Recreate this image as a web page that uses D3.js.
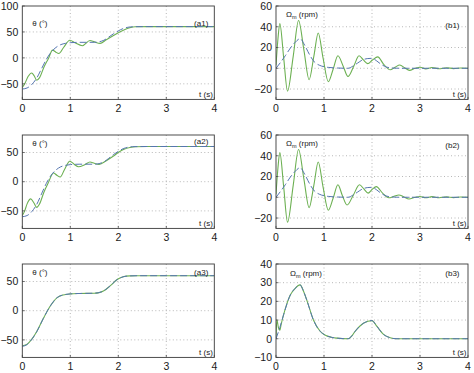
<!DOCTYPE html>
<html lang="en">
<head>
<meta charset="UTF-8">
<title>Position and speed responses</title>
<script src="https://d3js.org/d3.v7.min.js"></script>
<style>
  body { margin: 0; background: #fff; }
  svg { display: block; font-family: "Liberation Sans", Arial, Helvetica, sans-serif; }
</style>
</head>
<body>
<div id="chart"></div>
<script>
// ---- data: [t (s), value] ----
const timeTicks = [0, 1, 2, 3, 4];

// position reference (dashed) and response (solid), degrees
const thetaRefA = [[0,-60],[0.1,-58],[0.2,-51],[0.3,-39],[0.4,-21],[0.5,-3],[0.6,11],[0.7,20],
  [0.8,25.5],[0.9,28],[1.0,29.3],[1.2,30],[1.5,30],[1.6,31],[1.7,34],[1.8,40],[1.9,46.5],
  [2.0,52],[2.1,56.5],[2.2,59],[2.3,60],[2.6,60.3],[4,60.3]];
const thetaA1 = [[0,-57],[0.05,-50],[0.12,-36],[0.195,-29],[0.25,-35],[0.3,-43],[0.36,-38],
  [0.45,-18],[0.545,-1],[0.63,15],[0.7,11],[0.76,8.5],[0.86,20],[0.99,34],[1.1,29],[1.25,23.5],
  [1.41,33.5],[1.5,31],[1.62,28],[1.75,35],[1.9,43],[2.04,50.4],[2.15,55],[2.24,58],[2.35,60],
  [2.6,60.3],[4,60.3]];
const thetaA2 = [[0,-58],[0.05,-50],[0.1,-38],[0.175,-29.5],[0.24,-36],[0.3,-44],[0.36,-38],
  [0.45,-18],[0.54,-2],[0.65,15],[0.72,11],[0.79,8],[0.88,21],[0.99,35],[1.08,30],[1.17,25.5],
  [1.3,29],[1.41,33.7],[1.5,31.5],[1.6,29.6],[1.75,36],[1.9,44],[2.0,50],[2.12,55.5],
  [2.24,58.5],[2.35,60],[2.6,60.3],[4,60.3]];
const thetaRefA3 = [[0,-61],[0.08,-59],[0.16,-53],[0.3,-36],[0.44,-13],[0.58,7.6],[0.72,22],
  [0.85,27],[1.0,28.8],[1.2,29.5],[1.5,30],[1.6,31],[1.69,33.7],[1.83,42.5],[1.97,53],
  [2.1,58],[2.24,59.6],[2.4,60],[4,60]];
const thetaA3 = [[0,-60],[0.08,-58.5],[0.16,-52.5],[0.3,-36],[0.44,-13],[0.58,7.6],[0.72,22],
  [0.85,27],[1.0,28.8],[1.2,29.5],[1.5,30],[1.6,31],[1.69,33.7],[1.83,42.5],[1.97,53],
  [2.1,58],[2.24,59.6],[2.4,60],[4,60]];

// speed reference (dashed) and response (solid), rpm
const speedRefB = [[0,0],[0.1,6],[0.2,12.5],[0.3,19.5],[0.4,25],[0.5,28.5],[0.6,22],[0.7,13],
  [0.8,6],[0.9,3],[1.0,1.5],[1.1,0.8],[1.25,0.3],[1.5,0],[1.6,2],[1.7,5],[1.8,8],[1.9,9.3],
  [2.0,9.6],[2.1,7],[2.2,3.5],[2.3,1.2],[2.4,0.3],[2.6,0],[4,0]];
const speedB1 = [[0,3],[0.04,28],[0.08,43],[0.16,10],[0.24,-22],[0.36,12],[0.47,46],[0.58,18],
  [0.69,-11],[0.79,12],[0.88,34],[0.98,10],[1.09,-13],[1.19,-1],[1.29,12],[1.4,2],[1.5,-8],
  [1.62,2],[1.73,12],[1.82,8],[1.91,4.5],[2.01,8],[2.12,11],[2.24,4],[2.38,-1.5],[2.48,1],
  [2.58,3.2],[2.68,0.5],[2.78,-2],[2.9,0],[3.0,1],[3.12,-0.6],[3.25,0.8],[3.4,-0.5],
  [3.55,0.5],[3.7,-0.3],[3.85,0.3],[4,0]];
const speedB2 = [[0,3],[0.04,28],[0.08,43],[0.16,10],[0.24,-24],[0.36,12],[0.47,46],[0.58,18],
  [0.69,-10],[0.79,12],[0.88,34],[0.98,10],[1.09,-12.5],[1.19,-1],[1.29,12],[1.38,2],[1.48,-7.5],
  [1.61,2],[1.74,12],[1.83,8],[1.92,4],[2.0,7.5],[2.09,10.3],[2.22,4],[2.35,-0.5],[2.46,1],
  [2.56,2.2],[2.66,0.5],[2.77,-1.7],[2.9,0],[3.0,0.8],[3.12,-0.5],[3.25,0.6],[3.4,-0.4],
  [3.55,0.4],[3.7,-0.3],[3.85,0.2],[4,0]];
const speedRefB3 = [[0,0],[0.08,6],[0.16,13],[0.3,23.5],[0.4,27],[0.5,28.8],[0.58,25],[0.65,20],
  [0.78,10],[0.92,4],[1.02,2],[1.15,0.8],[1.27,0.3],[1.5,0],[1.58,1.5],[1.65,4],[1.75,6.8],
  [1.83,8.4],[2.0,9.7],[2.1,6.7],[2.24,2.3],[2.38,0.5],[2.5,0],[4,0]];
const speedB3 = [[0,1],[0.02,10],[0.05,6],[0.08,4.5],[0.11,8],[0.16,13],[0.3,23.5],[0.4,27],
  [0.5,28.8],[0.58,25],[0.65,20],[0.78,10],[0.92,4],[1.02,2],[1.15,0.8],[1.27,0.3],[1.5,0],
  [1.58,1.5],[1.65,4],[1.75,6.8],[1.83,8.4],[2.0,9.7],[2.1,6.7],[2.24,2.3],[2.38,0.5],[2.5,0],[4,0]];

const thetaTicksA1 = [-50, 0, 50, 100];
const thetaTicks = [-50, 0, 50];
const speedTicks = [-20, 0, 20, 40, 60];
const speedTicksB3 = [-10, 0, 10, 20, 30, 40];

// ---- layout ----
const width = 474, height = 373;
const colLeft = [22.3, 276];
const rowTop = [6, 135, 264];
const plotW = 192, plotH = 93.4;

const colors = {
  solid: "#6cb052",
  dashed: "#5676b0",
  grid: "#9a9a9a",
  frame: "#3a3a3a",
  text: "#1a1a1a"
};

const panels = [
  { tag: "(a1)", col: 0, row: 0, yDomain: [-80, 100], yTicks: thetaTicksA1, solid: thetaA1, dashed: thetaRefA,
    kind: "theta", labelDy: 17, tagDy: 17 },
  { tag: "(a2)", col: 0, row: 1, yDomain: [-80, 80], yTicks: thetaTicks, solid: thetaA2, dashed: thetaRefA,
    kind: "theta", labelDy: 8, tagDy: 6.5 },
  { tag: "(a3)", col: 0, row: 2, yDomain: [-80, 80], yTicks: thetaTicks, solid: thetaA3, dashed: thetaRefA3,
    kind: "theta", labelDy: 8, tagDy: 8 },
  { tag: "(b1)", col: 1, row: 0, yDomain: [-30, 60], yTicks: speedTicks, solid: speedB1, dashed: speedRefB,
    kind: "speed", labelDy: 8, tagDy: 19 },
  { tag: "(b2)", col: 1, row: 1, yDomain: [-30, 60], yTicks: speedTicks, solid: speedB2, dashed: speedRefB,
    kind: "speed", labelDy: 8, tagDy: 10 },
  { tag: "(b3)", col: 1, row: 2, yDomain: [-10, 40], yTicks: speedTicksB3, solid: speedB3, dashed: speedRefB3,
    kind: "speed", labelDy: 9, tagDy: 9, labelDx: 14 }
];

const svg = d3.select("#chart")
  .append("svg")
  .attr("width", width)
  .attr("height", height);

const x = d3.scaleLinear().domain([0, 4]).range([0, plotW]);

panels.forEach((p, i) => {
  const y = d3.scaleLinear().domain(p.yDomain).range([plotH, 0]);
  const g = svg.append("g")
    .attr("transform", `translate(${colLeft[p.col]},${rowTop[p.row]})`);

  // clip
  svg.append("clipPath").attr("id", "clip" + i)
    .append("rect").attr("width", plotW).attr("height", plotH);

  // dotted grid
  g.selectAll(".vgrid")
    .data(timeTicks.filter(t => t > 0 && t < 4))
    .join("line")
    .attr("x1", d => x(d)).attr("x2", d => x(d))
    .attr("y1", 0).attr("y2", plotH)
    .attr("stroke", colors.grid).attr("stroke-width", 0.7)
    .attr("stroke-dasharray", "1,2.5");
  g.selectAll(".hgrid")
    .data(p.yTicks.filter(v => v > p.yDomain[0] && v < p.yDomain[1]))
    .join("line")
    .attr("x1", 0).attr("x2", plotW)
    .attr("y1", d => y(d)).attr("y2", d => y(d))
    .attr("stroke", colors.grid).attr("stroke-width", 0.7)
    .attr("stroke-dasharray", "1,2.5");

  // curves
  const line = d3.line()
    .x(d => x(d[0]))
    .y(d => y(d[1]))
    .curve(d3.curveMonotoneX);

  const curves = g.append("g").attr("clip-path", `url(#clip${i})`);
  curves.append("path")
    .attr("d", line(p.solid))
    .attr("fill", "none")
    .attr("stroke", colors.solid)
    .attr("stroke-width", 1.1);
  curves.append("path")
    .attr("d", line(p.dashed))
    .attr("fill", "none")
    .attr("stroke", colors.dashed)
    .attr("stroke-width", 1)
    .attr("stroke-dasharray", "7,3");

  // inward ticks (MATLAB style)
  g.selectAll(".xt")
    .data(timeTicks)
    .join("line")
    .attr("x1", d => x(d)).attr("x2", d => x(d))
    .attr("y1", plotH).attr("y2", plotH - 2.5)
    .attr("stroke", colors.frame).attr("stroke-width", 0.7);
  g.selectAll(".yt")
    .data(p.yTicks)
    .join("line")
    .attr("x1", 0).attr("x2", 2.5)
    .attr("y1", d => y(d)).attr("y2", d => y(d))
    .attr("stroke", colors.frame).attr("stroke-width", 0.7);

  // frame
  g.append("rect")
    .attr("width", plotW).attr("height", plotH)
    .attr("fill", "none")
    .attr("stroke", colors.frame)
    .attr("stroke-width", 0.9);

  // tick labels
  g.selectAll(".xl")
    .data(timeTicks)
    .join("text")
    .attr("x", d => x(d))
    .attr("y", plotH + 12.8)
    .attr("text-anchor", "middle")
    .attr("font-size", 10.5)
    .attr("fill", colors.text)
    .text(d => d);
  g.selectAll(".yl")
    .data(p.yTicks)
    .join("text")
    .attr("x", -4)
    .attr("y", d => y(d))
    .attr("dy", "0.36em")
    .attr("text-anchor", "end")
    .attr("font-size", 10.5)
    .attr("fill", colors.text)
    .text(d => d3.format("")(d).replace("-", "\u2212"));

  // annotations
  const label = g.append("text")
    .attr("x", p.labelDx || 10)
    .attr("y", p.labelDy)
    .attr("dy", "0.35em")
    .attr("font-size", 8)
    .attr("fill", colors.text);
  if (p.kind === "theta") {
    label.text("\u03b8 (\u00b0)");
  } else {
    label.append("tspan").text("\u03a9");
    label.append("tspan").attr("font-size", 5.5).attr("dy", 2).text("m");
    label.append("tspan").attr("dy", -2).text(" (rpm)");
  }

  g.append("text")
    .attr("x", plotW - (p.col === 0 ? 6 : 8.5))
    .attr("y", p.tagDy)
    .attr("dy", "0.35em")
    .attr("text-anchor", "end")
    .attr("font-size", 8)
    .attr("fill", colors.text)
    .text(p.tag);

  g.append("text")
    .attr("x", plotW - 1.5)
    .attr("y", plotH - 4.8)
    .attr("dy", "0.35em")
    .attr("text-anchor", "end")
    .attr("font-size", 8)
    .attr("fill", colors.text)
    .text("t (s)");
});
</script>
</body>
</html>
